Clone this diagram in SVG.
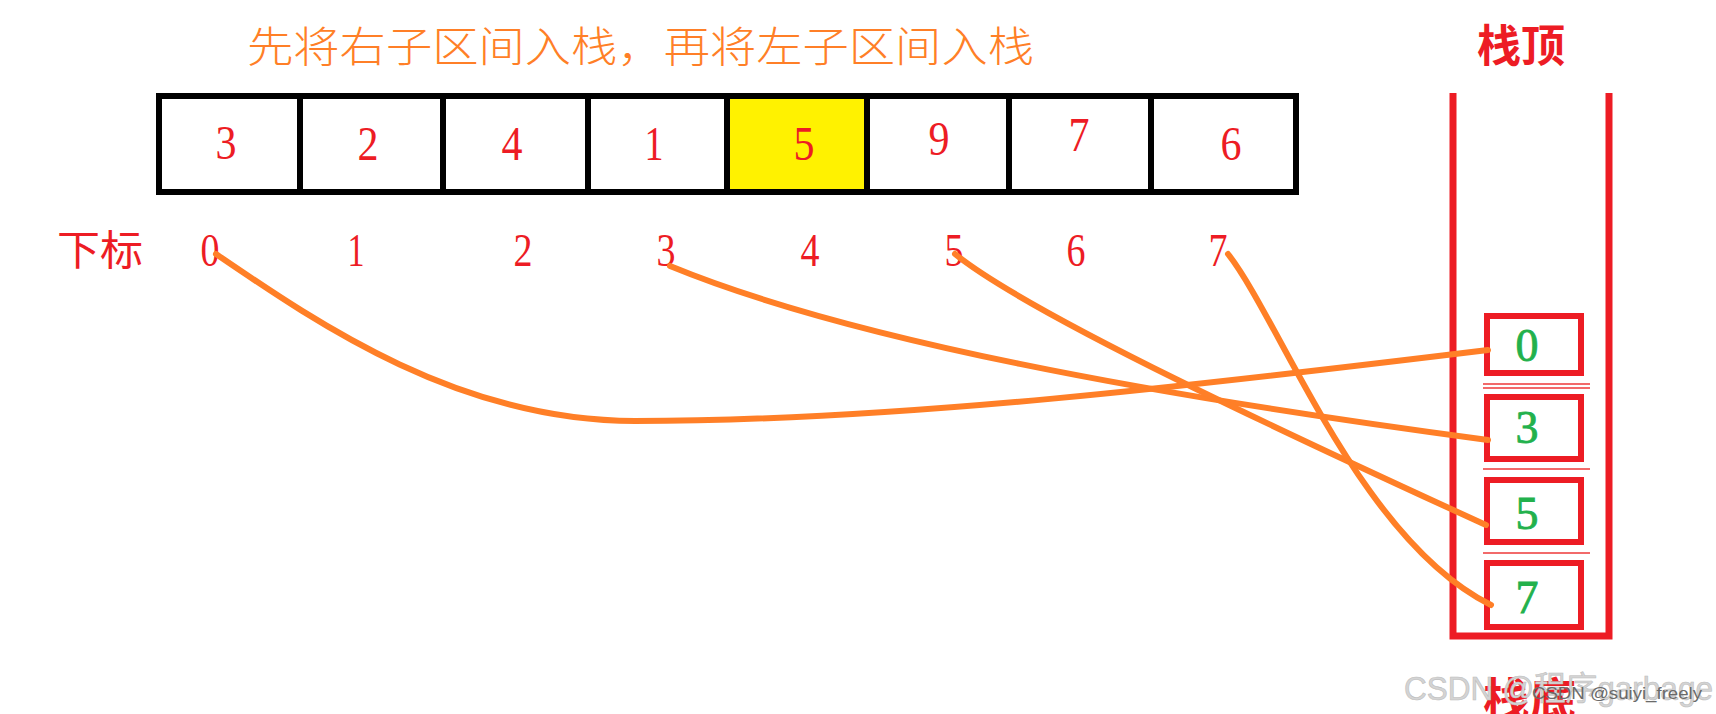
<svg xmlns="http://www.w3.org/2000/svg" width="1716" height="714" viewBox="0 0 1716 714">
<style>
.cjk{font-family:"Noto Sans CJK SC","Noto Sans CJK JP",sans-serif}
.num{font-family:"Liberation Serif","DejaVu Serif",serif;fill:#ED1C24;font-size:48px;text-anchor:middle}
.idx{font-family:"Liberation Serif","DejaVu Serif",serif;fill:#ED1C24;font-size:46px;text-anchor:middle}
.gnum{font-family:"Liberation Serif","DejaVu Serif",serif;fill:#22B14C;font-size:46px;text-anchor:middle;stroke:#22B14C;stroke-width:0.8}
.cell{fill:#fff;stroke:#000;stroke-width:6}
.sbox{fill:#fff;stroke:#ED1C24;stroke-width:6}
.wall{fill:none;stroke:#ED1C24;stroke-width:7}
.sep{stroke:#F26A6A;stroke-width:2}
.link{fill:none;stroke:#FF7F27;stroke-width:6;stroke-linecap:round}
</style>
<rect width="1716" height="714" fill="#fff"/>

<g id="title">
<text class="cjk" x="247" y="62" font-size="42" font-weight="300" fill="#FF7F27" textLength="787" lengthAdjust="spacingAndGlyphs">先将右子区间入栈，再将左子区间入栈</text>
</g>

<g id="array">
<rect class="cell" x="159" y="96" width="141" height="96"/>
<rect class="cell" x="300" y="96" width="143" height="96"/>
<rect class="cell" x="443" y="96" width="145" height="96"/>
<rect class="cell" x="588" y="96" width="139" height="96"/>
<rect class="cell" x="727" y="96" width="140" height="96" style="fill:#FFF200"/>
<rect class="cell" x="867" y="96" width="142" height="96"/>
<rect class="cell" x="1009" y="96" width="142" height="96"/>
<rect class="cell" x="1151" y="96" width="145" height="96"/>
<text class="num" x="226" y="159" textLength="21" lengthAdjust="spacingAndGlyphs">3</text>
<text class="num" x="368" y="160" textLength="21" lengthAdjust="spacingAndGlyphs">2</text>
<text class="num" x="512" y="160" textLength="21" lengthAdjust="spacingAndGlyphs">4</text>
<text class="num" x="654" y="160" textLength="19" lengthAdjust="spacingAndGlyphs">1</text>
<text class="num" x="804" y="160" textLength="21" lengthAdjust="spacingAndGlyphs">5</text>
<text class="num" x="939" y="155" textLength="21" lengthAdjust="spacingAndGlyphs">9</text>
<text class="num" x="1079" y="151" textLength="21" lengthAdjust="spacingAndGlyphs">7</text>
<text class="num" x="1231" y="160" textLength="21" lengthAdjust="spacingAndGlyphs">6</text>
</g>

<g id="indices">
<text class="cjk" x="57" y="265" font-size="41" fill="#ED1C24" textLength="86" lengthAdjust="spacingAndGlyphs">下标</text>
<text class="idx" x="210" y="266" textLength="19" lengthAdjust="spacingAndGlyphs">0</text>
<text class="idx" x="356" y="266" textLength="17" lengthAdjust="spacingAndGlyphs">1</text>
<text class="idx" x="523" y="266" textLength="19" lengthAdjust="spacingAndGlyphs">2</text>
<text class="idx" x="666" y="266" textLength="19" lengthAdjust="spacingAndGlyphs">3</text>
<text class="idx" x="810" y="266" textLength="19" lengthAdjust="spacingAndGlyphs">4</text>
<text class="idx" x="954" y="266" textLength="19" lengthAdjust="spacingAndGlyphs">5</text>
<text class="idx" x="1076" y="266" textLength="19" lengthAdjust="spacingAndGlyphs">6</text>
<text class="idx" x="1218" y="266" textLength="19" lengthAdjust="spacingAndGlyphs">7</text>
</g>

<g id="stack">
<text class="cjk" x="1477" y="62" font-size="44" font-weight="bold" fill="#ED1C24" textLength="88" lengthAdjust="spacingAndGlyphs">栈顶</text>
<path class="wall" d="M1453,93 V636 H1609 V93"/>
<g id="item-0"><rect class="sbox" x="1487" y="316" width="94" height="57"/><text class="gnum" x="1527" y="361" textLength="23" lengthAdjust="spacingAndGlyphs">0</text></g>
<line class="sep" x1="1483" y1="384" x2="1590" y2="384"/>
<line class="sep" x1="1483" y1="388" x2="1590" y2="388"/>
<g id="item-3"><rect class="sbox" x="1487" y="397" width="94" height="62"/><text class="gnum" x="1527" y="443" textLength="23" lengthAdjust="spacingAndGlyphs">3</text></g>
<line class="sep" x1="1483" y1="469" x2="1590" y2="469"/>
<g id="item-5"><rect class="sbox" x="1487" y="480" width="94" height="62"/><text class="gnum" x="1527" y="529" textLength="23" lengthAdjust="spacingAndGlyphs">5</text></g>
<line class="sep" x1="1483" y1="553" x2="1590" y2="553"/>
<g id="item-7"><rect class="sbox" x="1487" y="563" width="94" height="64"/><text class="gnum" x="1527" y="613" textLength="23" lengthAdjust="spacingAndGlyphs">7</text></g>
<text class="cjk" x="1483" y="716" font-size="46" font-weight="bold" fill="#ED1C24" textLength="93" lengthAdjust="spacingAndGlyphs">栈底</text>
</g>

<g id="connectors">
<path class="link" d="M216,254 C320,325 460,421 635,421 C900,421 1200,385 1488,350"/>
<path class="link" d="M670,266 C850,340 1150,395 1488,440"/>
<path class="link" d="M955,254 C1030,315 1300,440 1486,525"/>
<path class="link" d="M1228,254 C1280,320 1360,540 1491,605"/>
</g>

<g id="watermark">
<text x="1404" y="700" font-family="Liberation Sans,Arial,sans-serif" font-size="33" fill="#d4d4d4" stroke="#bdbdbd" stroke-width="0.6" textLength="309" lengthAdjust="spacingAndGlyphs">CSDN @<tspan class="cjk">程序</tspan>garbage</text>
<text x="1532" y="699" font-family="Liberation Sans,Arial,sans-serif" font-size="16" fill="#6a6a6a" textLength="170" lengthAdjust="spacingAndGlyphs">CSDN @suiyi_freely</text>
</g>
</svg>
